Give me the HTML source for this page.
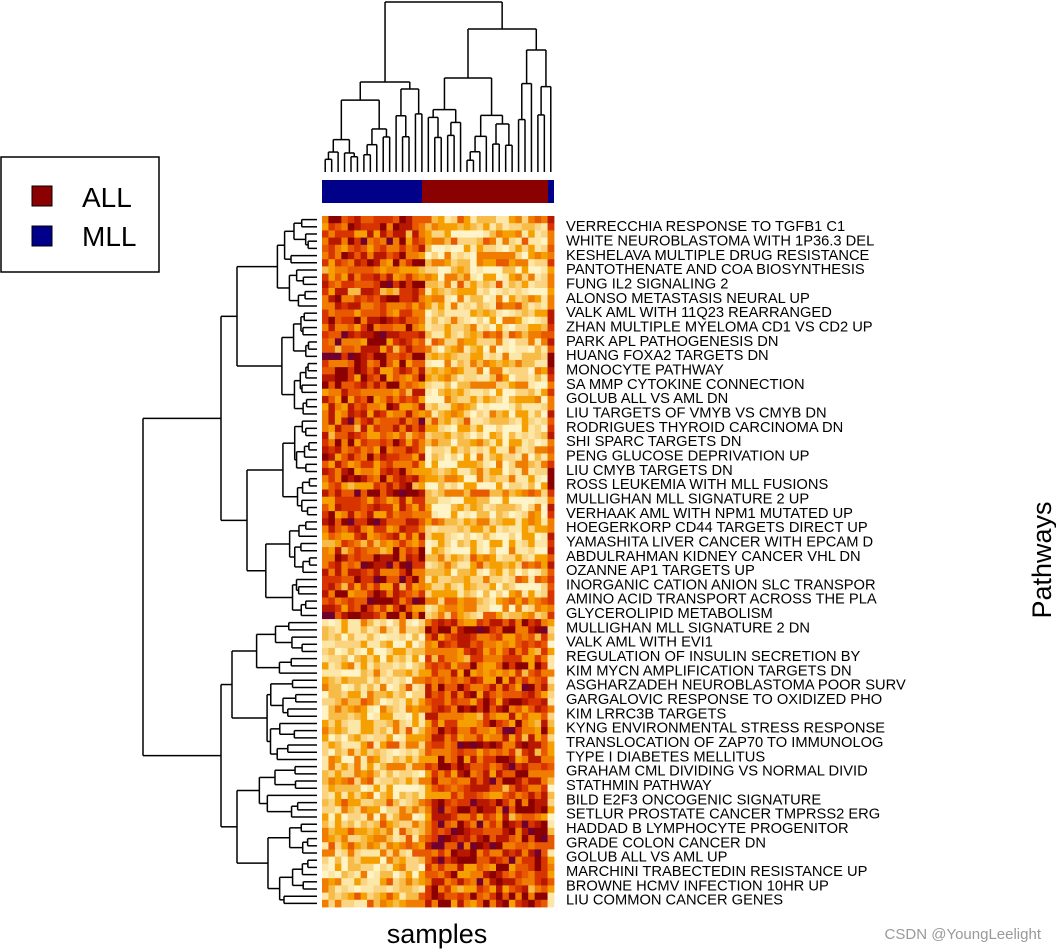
<!DOCTYPE html>
<html><head><meta charset="utf-8"><style>
body{margin:0;background:#fff;width:1056px;height:951px;overflow:hidden;font-family:"Liberation Sans",sans-serif}
</style></head><body>
<svg id="s" width="1056" height="951" xmlns="http://www.w3.org/2000/svg" style="position:absolute;left:0;top:0">
<rect x="1" y="157" width="158" height="115" fill="#fff" stroke="#000" stroke-width="1.5"/>
<rect x="32" y="186" width="20" height="20" fill="#8B0000" stroke="#000"/>
<rect x="32" y="226" width="20" height="20" fill="#00008B" stroke="#000"/>
<text x="82" y="207" font-size="28">ALL</text>
<text x="82" y="246" font-size="28">MLL</text>
<rect x="322" y="180" width="100" height="23" fill="#00008B"/>
<rect x="422" y="180" width="126" height="23" fill="#8B0000"/>
<rect x="548" y="180" width="6" height="23" fill="#00008B"/>
<text x="437" y="943" font-size="27" text-anchor="middle">samples</text>
<text transform="translate(1051,560) rotate(-90)" font-size="27" text-anchor="middle">Pathways</text>
<text x="1041" y="939" font-size="15" fill="#999" text-anchor="end">CSDN @YoungLeelight</text>
<g id="hm"></g><g id="dd" fill="none" stroke="#000" stroke-width="1.5"></g><g id="lb" font-size="14.7"></g>
</svg>
<script>
var seed=7;function R(){seed=(seed*16807)%2147483647;return seed/2147483647;}
var NS="http://www.w3.org/2000/svg";
function el(p,t,a){var e=document.createElementNS(NS,t);for(var k in a)e.setAttribute(k,a[k]);p.appendChild(e);return e;}
var pal=["#700030","#8B0000","#B81800","#D83400","#E85800","#F07C00","#F5A000","#F7BC48","#FAD480","#FCE6A8","#FFF4C8"];
var hm=document.getElementById("hm");
var x0=322,cw=232/36,y0=216,rh=691/96;
for(var r=0;r<96;r++){var isTop=r<56;var rb=(R()-0.5)*0.2;
for(var c=0;c<36;c++){var mll=(c<16||c==35);var dark=(isTop===mll);
var v=(dark?0.37:0.72)+rb+(R()-0.5)*0.5;v=Math.max(0,Math.min(0.999,v));
el(hm,"rect",{x:(x0+c*cw).toFixed(2),y:(y0+r*rh).toFixed(2),width:(cw+0.4).toFixed(2),height:(rh+0.4).toFixed(2),fill:pal[Math.floor(v*pal.length)]});}}
var labels=["VERRECCHIA RESPONSE TO TGFB1 C1","WHITE NEUROBLASTOMA WITH 1P36.3 DEL","KESHELAVA MULTIPLE DRUG RESISTANCE","PANTOTHENATE AND COA BIOSYNTHESIS","FUNG IL2 SIGNALING 2","ALONSO METASTASIS NEURAL UP","VALK AML WITH 11Q23 REARRANGED","ZHAN MULTIPLE MYELOMA CD1 VS CD2 UP","PARK APL PATHOGENESIS DN","HUANG FOXA2 TARGETS DN","MONOCYTE PATHWAY","SA MMP CYTOKINE CONNECTION","GOLUB ALL VS AML DN","LIU TARGETS OF VMYB VS CMYB DN","RODRIGUES THYROID CARCINOMA DN","SHI SPARC TARGETS DN","PENG GLUCOSE DEPRIVATION UP","LIU CMYB TARGETS DN","ROSS LEUKEMIA WITH MLL FUSIONS","MULLIGHAN MLL SIGNATURE 2 UP","VERHAAK AML WITH NPM1 MUTATED UP","HOEGERKORP CD44 TARGETS DIRECT UP","YAMASHITA LIVER CANCER WITH EPCAM D","ABDULRAHMAN KIDNEY CANCER VHL DN","OZANNE AP1 TARGETS UP","INORGANIC CATION ANION SLC TRANSPOR","AMINO ACID TRANSPORT ACROSS THE PLA","GLYCEROLIPID METABOLISM","MULLIGHAN MLL SIGNATURE 2 DN","VALK AML WITH EVI1","REGULATION OF INSULIN SECRETION BY","KIM MYCN AMPLIFICATION TARGETS DN","ASGHARZADEH NEUROBLASTOMA POOR SURV","GARGALOVIC RESPONSE TO OXIDIZED PHO","KIM LRRC3B TARGETS","KYNG ENVIRONMENTAL STRESS RESPONSE","TRANSLOCATION OF ZAP70 TO IMMUNOLOG","TYPE I DIABETES MELLITUS","GRAHAM CML DIVIDING VS NORMAL DIVID","STATHMIN PATHWAY","BILD E2F3 ONCOGENIC SIGNATURE","SETLUR PROSTATE CANCER TMPRSS2 ERG","HADDAD B LYMPHOCYTE PROGENITOR","GRADE COLON CANCER DN","GOLUB ALL VS AML UP","MARCHINI TRABECTEDIN RESISTANCE UP","BROWNE HCMV INFECTION 10HR UP","LIU COMMON CANCER GENES"];
var lb=document.getElementById("lb");
for(var i=0;i<48;i++){var t=el(lb,"text",{x:566,y:(216+14.33*(i+0.5)+8).toFixed(1)});t.textContent=labels[i];}
var dd=document.getElementById("dd");
function line(a,b,c,d){el(dd,"line",{x1:a,y1:b,x2:c,y2:d});}
function build(lo,hi,h){if(hi-lo==1)return {p:lo,h:0};
var m=lo+Math.max(1,Math.min(hi-lo-1,Math.round((hi-lo)*(0.3+R()*0.4))));
var ch=h*(0.6+R()*0.3);
return {p:0,h:h,a:build(lo,m,ch*(0.7+R()*0.4)),b:build(m,hi,ch*(0.7+R()*0.4))};}
function fix(n){if(n.a){fix(n.a);fix(n.b);n.p=(n.a.p+n.b.p)/2;}return n;}
function node(h,a,b){return {p:0,h:h,a:a,b:b};}
var tl=build(0,28,80),tr=build(28,56,70),tb1=build(56,76,85),tb2=build(76,96,80);
var rowTree=fix(node(174,node(96,tl,tr),node(96,tb1,tb2)));
function drawRow(n){ if(!n.a)return;var x=317-n.h;var ya=216+rh*(n.a.p+0.5),yb=216+rh*(n.b.p+0.5);
 line(x,ya,x,yb);line(x,ya,317-n.a.h,ya);line(x,yb,317-n.b.h,yb);drawRow(n.a);drawRow(n.b);}
drawRow(rowTree);
var cl=build(0,16,90),c1=build(16,30,94),c2=build(30,36,122);
var colTree=fix(node(170,cl,node(143,c1,c2)));
function drawCol(n){ if(!n.a)return;var y=172-n.h;var xa=x0+cw*(n.a.p+0.5),xb=x0+cw*(n.b.p+0.5);
 line(xa,y,xb,y);line(xa,y,xa,172-n.a.h);line(xb,y,xb,172-n.b.h);drawCol(n.a);drawCol(n.b);}
drawCol(colTree);
</script>
</body></html>
